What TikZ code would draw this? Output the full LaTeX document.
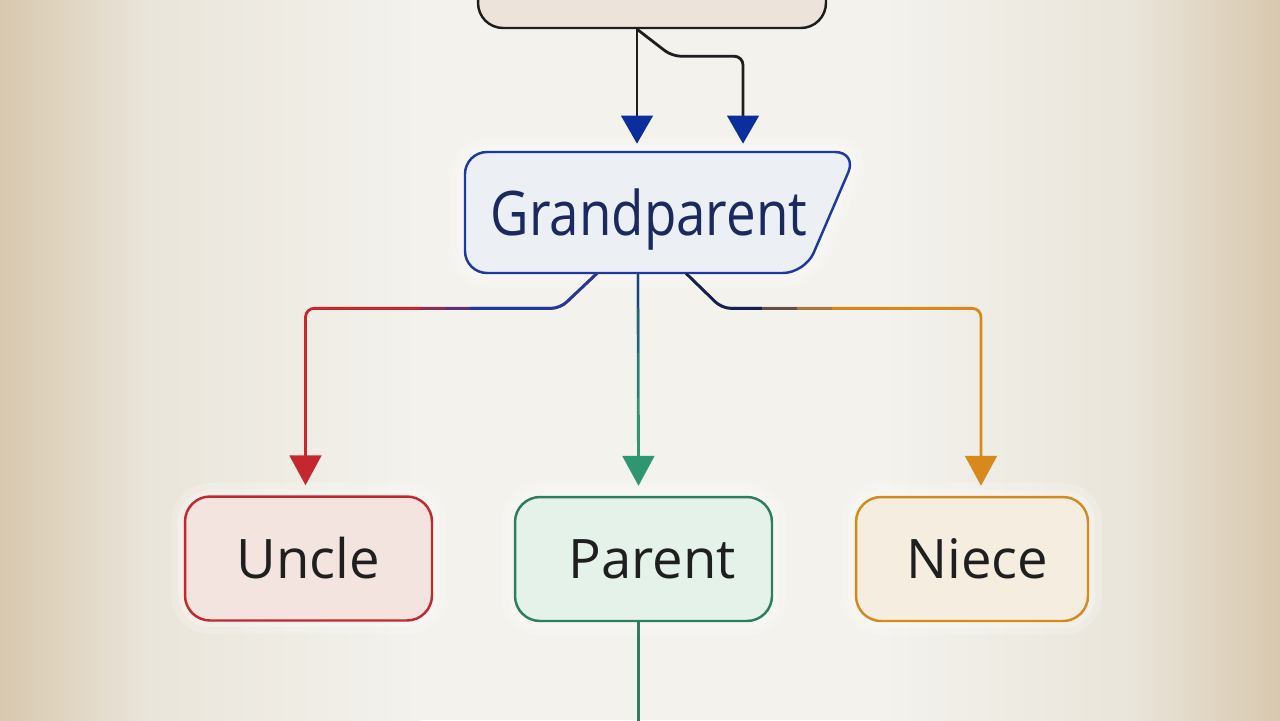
\documentclass[tikz,border=0pt]{standalone}
\usepackage{fontspec}
\setmainfont{Open Sans}[FakeStretch=0.86]
\newfontfamily\leaffont{Open Sans}
\usetikzlibrary{arrows.meta,calc}
\definecolor{bgE}{RGB}{216,200,174}
\definecolor{bgQ}{RGB}{234,229,218}
\definecolor{bgM}{RGB}{243,242,237}
\definecolor{topfill}{RGB}{236,228,218}
\definecolor{ink}{RGB}{30,30,30}
\definecolor{gpblue}{RGB}{30,58,158}
\definecolor{gpfill}{RGB}{236,239,243}
\definecolor{gptext}{RGB}{27,42,94}
\definecolor{arblue}{RGB}{12,46,156}
\definecolor{cred}{RGB}{196,40,46}
\definecolor{redfill}{RGB}{243,228,224}
\definecolor{cgreen}{RGB}{46,150,112}
\definecolor{grstroke}{RGB}{46,125,98}
\definecolor{grfill}{RGB}{228,242,234}
\definecolor{corange}{RGB}{214,138,30}
\definecolor{orfill}{RGB}{244,237,224}
\tikzset{
  x=0.02cm, y=-0.02cm,
  leaf/.style={rounded corners=0.5cm, line width=1.4pt, minimum height=2.48cm,
    font=\leaffont\fontsize{31}{36}\selectfont, text=black!88},
  glowA/.style={draw=white, line width=16pt, opacity=0.18},
  glowB/.style={draw=white, line width=8pt, opacity=0.25},
  conn/.style={line width=1.6pt, rounded corners=5pt},
  tipB/.style={-{Triangle[width=18pt,length=16pt,color=arblue]}},
}
\begin{document}
\begin{tikzpicture}
\useasboundingbox (0,0) rectangle (1280,720);
\clip (0,0) rectangle (1280,720);
% background
\fill[bgM] (0,0) rectangle (1280,720);
\shade[left color=bgE, right color=bgQ] (0,0) rectangle (150,720);
\shade[left color=bgQ, right color=bgM] (150,0) rectangle (420,720);
\shade[left color=bgM, right color=bgQ] (880,0) rectangle (1130,720);
\shade[left color=bgQ, right color=bgE] (1130,0) rectangle (1280,720);

% glows
\foreach \g in {glowA,glowB}{
\draw[\g, rounded corners=0.44cm] (465,152) -- (857,152) -- (805,273) -- (465,273) -- cycle;
\draw[\g, rounded corners=0.5cm] (185,497) rectangle (432,620);
\draw[\g, rounded corners=0.5cm] (515,497) rectangle (772,621);
\draw[\g, rounded corners=0.5cm] (856,497) rectangle (1088,621);
}

% top box
\node[draw=ink, fill=topfill, line width=1.4pt, rounded corners=0.5cm,
  minimum width=6.96cm, minimum height=1.6cm] (top) at (652,-12) {};

% grandparent
\fill[gpfill, rounded corners=0.44cm] (465,152) -- (857,152) -- (805,273) -- (465,273) -- cycle;
\draw[gpblue, line width=1.4pt, rounded corners=0.44cm] (465,152) -- (857,152) -- (805,273) -- (465,273) -- cycle;
\node[minimum height=2.42cm, inner sep=0pt, text=gptext, text height=34.6pt, text depth=8.4pt,
  font=\fontsize{35}{40}\selectfont] (gp) at (649,212.5) {Grandparent};

% leaves
\node[leaf, draw=cred, fill=redfill, minimum width=4.94cm] (uncle) at (308.5,558.5) {Uncle};
\node[leaf, draw=grstroke, fill=grfill, minimum width=5.14cm] (parent) at (643.5,559) {\hspace*{10pt}Parent};
\node[leaf, draw=corange, fill=orfill, minimum width=4.64cm] (niece) at (972,559) {\hspace*{6pt}Niece};

% top connectors
\coordinate (t1) at ($(top.south)+(-15,0)$);
\draw[conn, ink, tipB] (t1) -- ($(gp.north)+(-12,-8)$);
\draw[conn, ink, tipB] (t1) -- ++(35,27) -- ++(71,0) -- ($(gp.north)+(94,-8)$);

% grandparent -> uncle
\coordinate (gl) at ($(gp.south)+(-52,0)$);
\draw[conn, cred, -{Triangle[width=18pt,length=17pt]}] (gl) -- ++(-37,35) -| ($(uncle.north)+(-3,-10)$);
\draw[line width=1.6pt, gpblue, rounded corners=5pt] (gl) -- ++(-37,35) -- ++(-90,0);
\draw[line width=1.6pt, gpblue!65!cred] ($(gl)+(-127,35)$) -- ++(-25,0);
\draw[line width=1.6pt, gpblue!35!cred] ($(gl)+(-152,35)$) -- ++(-25,0);

% grandparent -> parent
\coordinate (gm) at ($(gp.south)+(-11,0)$);
\draw[conn, cgreen, -{Triangle[width=18pt,length=17pt]}] (gm) -- ($(parent.north)+(-5,-10)$);
\draw[line width=1.6pt, gpblue] (gm) -- ++(0,35);
\draw[line width=1.6pt, gpblue!60!cgreen] ($(gm)+(0,35)$) -- ++(0,45);
\draw[line width=1.6pt, gpblue!30!cgreen] ($(gm)+(0,80)$) -- ++(0,45);

% grandparent -> niece
\coordinate (gr) at ($(gp.south)+(37,0)$);
\draw[conn, corange, -{Triangle[width=18pt,length=17pt]}] (gr) -- ++(36,35) -| ($(niece.north)+(9,-10)$);
\draw[line width=1.6pt, gpblue!55!black, rounded corners=5pt] (gr) -- ++(36,35) -- ++(40,0);
\draw[line width=1.6pt, gpblue!50!corange!80!black] ($(gr)+(76,35)$) -- ++(35,0);
\draw[line width=1.6pt, gpblue!25!corange] ($(gr)+(111,35)$) -- ++(35,0);

% parent -> below
\coordinate (pb) at (638.5,725);
\draw[line width=1.6pt, grstroke] ($(parent.south)+(-5,0)$) -- (pb);
\end{tikzpicture}
\end{document}
